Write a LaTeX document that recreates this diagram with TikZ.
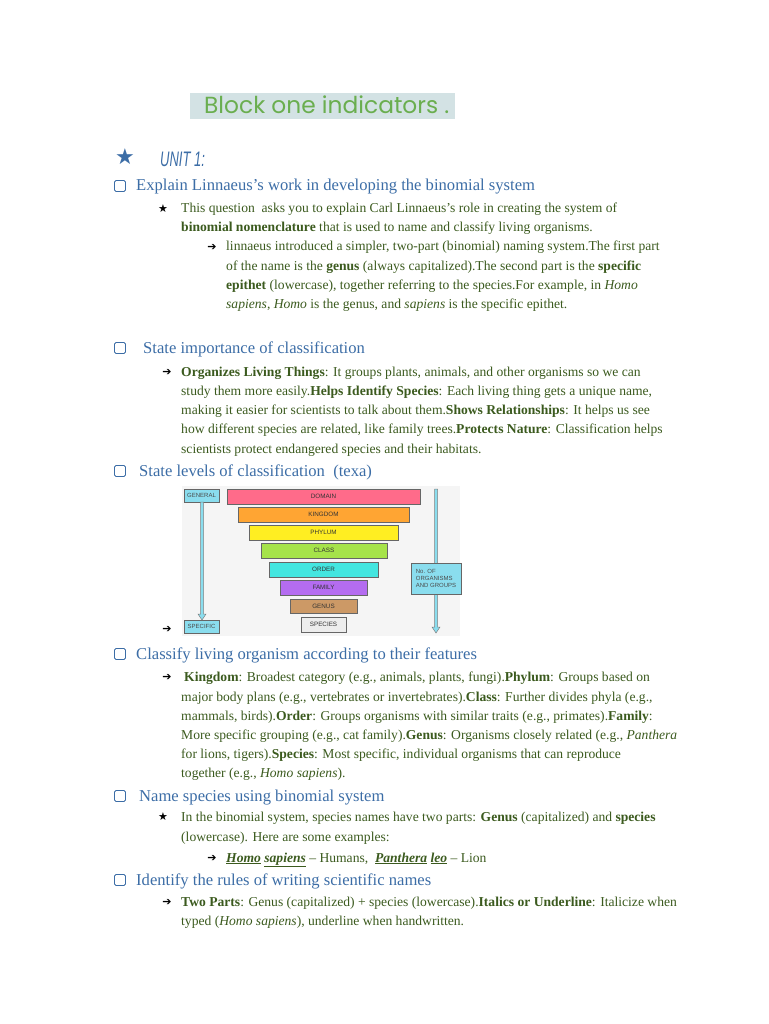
\documentclass[tikz,border=0pt]{standalone}
\usepackage{fontspec}
\setmainfont{Liberation Serif}
\newfontfamily\titlefont{Poppins}
\newfontfamily\symfont{DejaVu Sans}
\newfontfamily\unitfont{Liberation Sans}
\usetikzlibrary{arrows.meta}
\definecolor{bodyc}{HTML}{3B5A1E}
\definecolor{headc}{HTML}{3C6DA6}
\definecolor{titlec}{HTML}{6AAE4F}
\definecolor{titlebg}{HTML}{D3E2E4}
\definecolor{arrc}{HTML}{8ADDEE}
\tikzset{
 x=1pt,y=-1pt,
 body/.style={anchor=base west,inner sep=0pt,text=bodyc,font=\fontsize{13.6}{15}\selectfont},
 head/.style={anchor=base west,inner sep=0pt,text=headc,font=\fontsize{16.6}{18}\selectfont},
 chk/.style={draw=headc,line width=0.9pt,minimum size=11pt,inner sep=0pt,rounded corners=1.5pt},
 sym/.style={inner sep=0pt,text=black,font=\symfont\fontsize{11}{11}\selectfont},
 bar/.style={draw=black!60,line width=0.5pt,inner sep=0pt,font=\unitfont\fontsize{6.3}{6.3}\selectfont,text=black!80},
 lbl/.style={draw=black!60,fill=arrc,inner sep=1pt,font=\unitfont\fontsize{6}{7}\selectfont,text=black!70,align=left},
 varr/.style={draw=black!50,line width=0.5pt,fill=arrc}
}
\begin{document}
\begin{tikzpicture}
\useasboundingbox (0,0) rectangle (768,1024);
% title
\fill[titlebg] (190,93) rectangle (455,119);
\node[anchor=base west,inner sep=0pt,text=titlec,font=\titlefont\fontsize{23.3}{24}\selectfont] (title) at (204,114) {Block one indicators .};
% unit
\node[text=headc,font=\symfont\fontsize{22}{22}\selectfont,inner sep=0pt] (ustar) at (125,157) {★};
\node[anchor=base west,inner sep=0pt,text=headc,font=\unitfont\itshape\fontsize{21}{21}\selectfont,xscale=0.62] (unit) at (160,167) {UNIT 1:};
% section 1
\node[chk] (c1) at (120,186) {};
\node[head] (h1) at (136,191) {Explain Linnaeus’s work in developing the binomial system};
\node[sym] (s1) at (163,209) {★};
\node[body] (t1a) at (181,213) {This question\ \ asks you to explain Carl Linnaeus’s role in creating the system of};
\node[body] (t1b) at (181,232) {\textbf{binomial nomenclature} that is used to name and classify living organisms.};
\node[sym] (a1) at (212,247) {➔};
\node[body] (t1c) at (226,251) {linnaeus introduced a simpler, two-part (binomial) naming system.The first part};
\node[body] (t1d) at (226,270) {of the name is the \textbf{genus} (always capitalized).The second part is the \textbf{specific}};
\node[body] (t1e) at (226,289) {\textbf{epithet} (lowercase), together referring to the species.For example, in \textit{Homo}};
\node[body] (t1f) at (226,308) {\textit{sapiens}, \textit{Homo} is the genus, and \textit{sapiens} is the specific epithet.};
% section 2
\node[chk] (c2) at (120,348) {};
\node[head] (h2) at (143,353) {State importance of classification};
\node[sym] (a2) at (167,372) {➔};
\node[body] (t2a) at (181,376) {\textbf{Organizes Living Things}: It groups plants, animals, and other organisms so we can};
\node[body] (t2b) at (181,395) {study them more easily.\textbf{Helps Identify Species}: Each living thing gets a unique name,};
\node[body] (t2c) at (181,414) {making it easier for scientists to talk about them.\textbf{Shows Relationships}: It helps us see};
\node[body] (t2d) at (181,433) {how different species are related, like family trees.\textbf{Protects Nature}: Classification helps};
\node[body] (t2e) at (181,453) {scientists protect endangered species and their habitats.};
% section 3
\node[chk] (c3) at (120,471) {};
\node[head] (h3) at (139,476) {State levels of classification\ \ (texa)};
\fill[black!4] (182,486) rectangle (460,636);
\node[bar,fill={rgb,255:red,255;green,107;blue,138},minimum width=193pt,minimum height=15pt] (dom) at (323.5,496.5) {DOMAIN};
\node[bar,fill={rgb,255:red,255;green,165;blue,51},minimum width=171pt,minimum height=15pt] (kin) at (323.5,514.5) {KINGDOM};
\node[bar,fill={rgb,255:red,255;green,238;blue,34},minimum width=149pt,minimum height=15pt] (phy) at (323.5,532.5) {PHYLUM};
\node[bar,fill={rgb,255:red,166;green,227;blue,74},minimum width=126pt,minimum height=15pt] (cla) at (324,550.5) {CLASS};
\node[bar,fill={rgb,255:red,68;green,230;blue,224},minimum width=109pt,minimum height=15pt] (ord) at (323.5,569.5) {ORDER};
\node[bar,fill={rgb,255:red,180;green,108;blue,240},minimum width=87pt,minimum height=15pt] (fam) at (323.5,587.5) {FAMILY};
\node[bar,fill={rgb,255:red,204;green,153;blue,102},minimum width=67pt,minimum height=14pt] (gen) at (323.5,606) {GENUS};
\node[bar,fill=black!7,minimum width=45pt,minimum height=15pt] (spe) at (323.5,624.5) {SPECIES};
\node[lbl,minimum width=35pt,minimum height=13pt] (gnl) at (201.5,495.5) {GENERAL};
\node[lbl,minimum width=35pt,minimum height=13pt] (spc) at (201.5,626.5) {SPECIFIC};
\draw[varr] (200.5,502) -- (203.5,502) -- (203.5,614) -- (206,614) -- (202,620) -- (198,614) -- (200.5,614) -- cycle;
\draw[varr] (434.5,489) -- (437.5,489) -- (437.5,627) -- (440,627) -- (436,633) -- (432,627) -- (434.5,627) -- cycle;
\node[lbl,minimum width=50pt,minimum height=31pt] (num) at (436,578.5) {No. OF\\ORGANISMS\\AND GROUPS};
\node[sym] (a3) at (167,629) {➔};
% section 4
\node[chk] (c4) at (120,654) {};
\node[head] (h4) at (136,659) {Classify living organism according to their features};
\node[sym] (a4) at (167,677) {➔};
\node[body] (t4a) at (184,681) {\textbf{Kingdom}: Broadest category (e.g., animals, plants, fungi).\textbf{Phylum}: Groups based on};
\node[body] (t4b) at (181,701) {major body plans (e.g., vertebrates or invertebrates).\textbf{Class}: Further divides phyla (e.g.,};
\node[body] (t4c) at (181,720) {mammals, birds).\textbf{Order}: Groups organisms with similar traits (e.g., primates).\textbf{Family}:};
\node[body] (t4d) at (181,739) {More specific grouping (e.g., cat family).\textbf{Genus}: Organisms closely related (e.g., \textit{Panthera}};
\node[body] (t4e) at (181,758) {for lions, tigers).\textbf{Species}: Most specific, individual organisms that can reproduce};
\node[body] (t4f) at (181,777) {together (e.g., \textit{Homo sapiens}).};
% section 5
\node[chk] (c5) at (120,796) {};
\node[head] (h5) at (139,801) {Name species using binomial system};
\node[sym] (s5) at (163,817) {★};
\node[body] (t5a) at (181,821) {In the binomial system, species names have two parts: \textbf{Genus} (capitalized) and \textbf{species}};
\node[body] (t5b) at (181,841) {(lowercase). Here are some examples:};
\node[sym] (a5) at (212,858) {➔};
\node[body] (t5c) at (226,862) {\textbf{\textit{\underline{Homo}}} \textbf{\textit{\underline{sapiens}}} – Humans,\ \ \textbf{\textit{\underline{Panthera}}} \textbf{\textit{\underline{leo}}} – Lion};
% section 6
\node[chk] (c6) at (120,880) {};
\node[head] (h6) at (136,885) {Identify the rules of writing scientific names};
\node[sym] (a6) at (167,902) {➔};
\node[body] (t6a) at (181,906) {\textbf{Two Parts}: Genus (capitalized) + species (lowercase).\textbf{Italics or Underline}: Italicize when};
\node[body] (t6b) at (181,925) {typed (\textit{Homo sapiens}), underline when handwritten.};
\end{tikzpicture}
\end{document}
